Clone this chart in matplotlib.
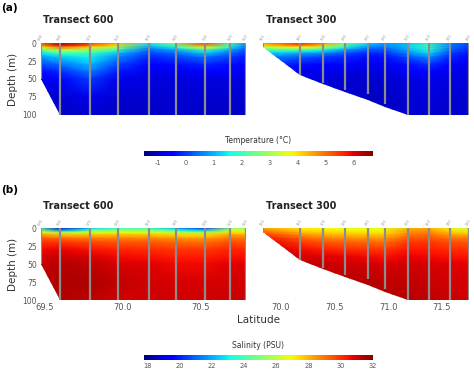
import numpy as np
import matplotlib
matplotlib.use("Agg")
import matplotlib.pyplot as plt
from matplotlib.patches import Polygon

# ---------------- data ----------------
depths = [0, 3, 6, 10, 15, 20, 30, 40, 50, 75, 100]

# Transect 600
t600_lat = [69.48, 69.60, 69.79, 69.97, 70.17, 70.34, 70.53, 70.69, 70.79]
t600_bottom = [50, 100, 100, 100, 100, 100, 100, 100, 100]
t600_cast = [50, 100, 100, 100, 100, 100, 100, 100, 100]
t600_names = ["590", "580", "570", "560", "550", "540", "530", "520", "510"]

# Transect 300
t300_lat = [69.84, 70.18, 70.40, 70.60, 70.81, 70.97, 71.18, 71.38, 71.57, 71.75]
t300_bottom = [5, 44, 56.6, 68, 79.6, 89, 100, 100, 100, 100]
t300_cast = [5, 44, 56, 65, 71, 85, 100, 100, 100, 100]
t300_names = ["314", "310", "300", "290", "280", "270", "260", "250", "240", "230"]

# temperature profiles (rows: stations, cols: depths)
temp600 = [
    [5.0, 4.6, 3.6, 2.3, 1.3, 0.7, 0.1, -0.4, -0.7, -0.9, -0.9],
    [6.5, 6.3, 5.0, 3.2, 1.8, 1.1, 0.4, -0.2, -0.6, -0.9, -1.0],
    [5.6, 5.2, 4.1, 2.7, 1.9, 1.5, 1.0, 0.5, 0.0, -0.7, -0.9],
    [4.4, 4.0, 3.0, 1.8, 1.0, 0.6, 0.1, -0.3, -0.7, -0.9, -1.0],
    [1.4, 1.1, 0.7, 0.3, 0.0, -0.2, -0.5, -0.7, -0.8, -0.9, -1.0],
    [2.8, 2.4, 1.6, 0.8, 0.3, 0.0, -0.4, -0.7, -0.8, -0.9, -0.9],
    [5.5, 5.0, 3.8, 2.0, 1.0, 0.4, -0.2, -0.6, -0.8, -0.9, -1.0],
    [2.4, 2.1, 1.5, 0.8, 0.3, 0.0, -0.4, -0.6, -0.8, -0.9, -1.0],
    [0.6, 0.5, 0.3, 0.1, -0.1, -0.3, -0.5, -0.7, -0.8, -0.9, -1.0],
]
temp300 = [
    [4.4, 4.0, 3.0, 1.9, 1.1, 0.6, 0.1, -0.2, -0.4, -0.6, -0.7],
    [5.8, 5.3, 3.8, 2.0, 0.8, 0.2, -0.4, -0.7, -0.8, -0.9, -0.9],
    [4.8, 4.3, 3.0, 1.5, 0.5, 0.0, -0.5, -0.7, -0.8, -0.9, -0.9],
    [2.8, 2.4, 1.6, 0.7, 0.1, -0.2, -0.6, -0.8, -0.9, -0.9, -0.9],
    [1.3, 1.0, 0.6, 0.2, -0.2, -0.4, -0.7, -0.8, -0.9, -1.0, -1.0],
    [0.7, 0.6, 0.4, 0.1, -0.2, -0.4, -0.7, -0.8, -0.9, -1.0, -1.0],
    [1.0, 1.1, 1.1, 0.9, 0.5, 0.1, -0.4, -0.6, -0.8, -0.9, -0.9],
    [1.6, 2.0, 2.0, 1.7, 1.2, 0.6, -0.1, -0.5, -0.7, -0.8, -0.9],
    [0.6, 0.6, 0.5, 0.3, 0.0, -0.2, -0.5, -0.7, -0.8, -0.9, -0.9],
    [0.1, 0.0, -0.1, -0.2, -0.4, -0.5, -0.7, -0.8, -0.8, -0.9, -0.9],
]

# salinity profiles
sal600 = [
    [24.0, 25.5, 27.2, 28.6, 29.5, 30.0, 30.6, 30.9, 31.1, 31.2, 31.2],
    [18.5, 21.0, 25.2, 28.0, 29.3, 30.0, 30.7, 31.1, 31.3, 31.4, 31.3],
    [22.5, 24.2, 26.3, 28.0, 29.0, 29.7, 30.5, 30.9, 31.2, 31.4, 31.2],
    [24.0, 25.2, 26.6, 28.0, 28.9, 29.5, 30.2, 30.6, 30.9, 31.2, 31.0],
    [24.0, 25.2, 26.6, 27.9, 28.8, 29.4, 30.1, 30.5, 30.8, 31.0, 31.0],
    [22.0, 23.6, 25.8, 27.6, 28.6, 29.2, 29.9, 30.3, 30.6, 30.9, 31.0],
    [20.0, 22.0, 25.2, 27.4, 28.5, 29.1, 29.9, 30.3, 30.6, 30.9, 31.0],
    [25.5, 26.4, 27.4, 28.4, 29.1, 29.6, 30.2, 30.5, 30.8, 31.0, 31.1],
    [25.0, 26.1, 27.2, 28.3, 29.0, 29.5, 30.2, 30.5, 30.8, 31.0, 31.1],
]
sal300 = [
    [28.4, 28.9, 29.5, 30.1, 30.6, 30.9, 31.2, 31.3, 31.4, 31.4, 31.4],
    [27.2, 27.5, 28.0, 28.7, 29.4, 29.9, 30.6, 31.0, 31.3, 31.4, 31.4],
    [26.9, 27.2, 27.6, 28.2, 28.9, 29.5, 30.3, 30.8, 31.1, 31.3, 31.4],
    [26.8, 27.0, 27.4, 28.0, 28.7, 29.3, 30.1, 30.7, 31.0, 31.3, 31.4],
    [26.7, 26.9, 27.3, 27.9, 28.6, 29.2, 30.0, 30.6, 31.0, 31.3, 31.4],
    [26.6, 26.8, 27.2, 27.8, 28.5, 29.1, 29.9, 30.5, 30.9, 31.2, 31.3],
    [28.0, 28.3, 28.6, 29.0, 29.5, 29.9, 30.4, 30.7, 31.0, 31.2, 31.3],
    [28.3, 28.5, 28.8, 29.2, 29.6, 29.9, 30.3, 30.6, 30.9, 31.1, 31.2],
    [26.9, 27.3, 27.8, 28.5, 29.1, 29.6, 30.1, 30.5, 30.8, 31.0, 31.1],
    [25.9, 26.5, 27.3, 28.2, 28.9, 29.4, 30.0, 30.4, 30.7, 30.9, 31.0],
]

temp_ticks = [-1, 0, 1, 2, 3, 4, 5, 6]
sal_ticks = [18, 20, 22, 24, 26, 28, 30, 32]
depth_ticks = [0, 25, 50, 75, 100]
lat_ticks_600 = [69.5, 70.0, 70.5]
lat_ticks_300 = [70.0, 70.5, 71.0, 71.5]

# ---------------- figure ----------------
W, H = 474, 369
fig = plt.figure(figsize=(W / 100, H / 100), dpi=100)
cmap = plt.get_cmap("jet")
TVMIN, TVMAX = -1.5, 6.7
SVMIN, SVMAX = 17.8, 32.0
TICKC = "#555555"


def px_axes(x0, y0, x1, y1):
    return fig.add_axes([x0 / W, 1 - y1 / H, (x1 - x0) / W, (y1 - y0) / H])


def section(ax, lats, bottom, cast, names, field, vmin, vmax, show_y, lat_ticks):
    X, Y = np.meshgrid(lats, depths, indexing="ij")
    mesh = ax.pcolormesh(X, Y, np.array(field), cmap=cmap, vmin=vmin, vmax=vmax,
                         shading="gouraud")
    verts = [(lats[0], 0), (lats[-1], 0)] + [(la, b) for la, b in zip(lats[::-1], bottom[::-1])]
    poly = Polygon(verts, closed=True, transform=ax.transData, facecolor="none", edgecolor="none")
    ax.add_patch(poly)
    mesh.set_clip_path(poly)
    for la, c in zip(lats, cast):
        ax.plot([la, la], [0, c], color="#8c8c8c", lw=1.6, solid_capstyle="butt", zorder=3)
    for la, nm in zip(lats, names):
        ax.text(la, -2.5, nm, fontsize=2.6, color="#9a9a9a", rotation=60,
                ha="center", va="bottom", clip_on=False)
    ax.set_xlim(lats[0], lats[-1])
    ax.set_ylim(100, 0)
    for s in ax.spines.values():
        s.set_visible(False)
    ax.tick_params(length=0, labelsize=5.5, colors=TICKC, pad=3)
    if show_y:
        ax.set_yticks(depth_ticks)
        ax.set_ylabel("Depth (m)", fontsize=7.5, color="#333333", labelpad=3)
    else:
        ax.set_yticks([])
    if lat_ticks:
        ax.set_xticks(lat_ticks)
        ax.set_xticklabels([f"{t:.1f}" for t in lat_ticks])
        ax.tick_params(axis="x", labelsize=6, pad=2)
    else:
        ax.set_xticks([])
    return mesh


# panel (a)
axa1 = px_axes(41, 43, 246, 115)
section(axa1, t600_lat, t600_bottom, t600_cast, t600_names, temp600, TVMIN, TVMAX, True, None)
axa2 = px_axes(263, 43, 469, 115)
section(axa2, t300_lat, t300_bottom, t300_cast, t300_names, temp300, TVMIN, TVMAX, False, None)

# panel (b)
axb1 = px_axes(41, 228, 246, 300)
section(axb1, t600_lat, t600_bottom, t600_cast, t600_names, sal600, SVMIN, SVMAX, True, lat_ticks_600)
axb2 = px_axes(263, 228, 469, 300)
section(axb2, t300_lat, t300_bottom, t300_cast, t300_names, sal300, SVMIN, SVMAX, False, lat_ticks_300)

# titles
for x, y, t in [(43, 20, "Transect 600"), (266, 20, "Transect 300"),
                (43, 206, "Transect 600"), (266, 206, "Transect 300")]:
    fig.text(x / W, 1 - y / H, t, fontsize=7, fontweight="bold", color="#222222",
             ha="left", va="center")

fig.text(1 / W, 1 - 8 / H, "(a)", fontsize=7.5, fontweight="bold", ha="left", va="center")
fig.text(1 / W, 1 - 190 / H, "(b)", fontsize=7.5, fontweight="bold", ha="left", va="center")
fig.text(258 / W, 1 - 320 / H, "Latitude", fontsize=7.5, color="#333333",
         ha="center", va="center")

# colorbars
cax1 = px_axes(144, 151, 373, 156)
cb1 = fig.colorbar(plt.cm.ScalarMappable(norm=plt.Normalize(TVMIN, TVMAX), cmap=cmap),
                   cax=cax1, orientation="horizontal")
cb1.set_ticks(temp_ticks)
cb1.set_ticklabels([str(t) for t in temp_ticks])
cb1.outline.set_visible(False)
cax1.tick_params(length=0, labelsize=4.8, colors=TICKC, pad=3)
fig.text(258 / W, 1 - 140 / H, "Temperature (°C)", fontsize=5.5, color="#333333",
         ha="center", va="center")

cax2 = px_axes(144, 355, 373, 360)
cb2 = fig.colorbar(plt.cm.ScalarMappable(norm=plt.Normalize(SVMIN, SVMAX), cmap=cmap),
                   cax=cax2, orientation="horizontal")
cb2.set_ticks(sal_ticks)
cb2.set_ticklabels([str(t) for t in sal_ticks])
cb2.outline.set_visible(False)
cax2.tick_params(length=0, labelsize=4.8, colors=TICKC, pad=2)
fig.text(258 / W, 1 - 346 / H, "Salinity (PSU)", fontsize=5.5, color="#333333",
         ha="center", va="center")

fig.savefig("out.png", dpi=100, facecolor="white")
